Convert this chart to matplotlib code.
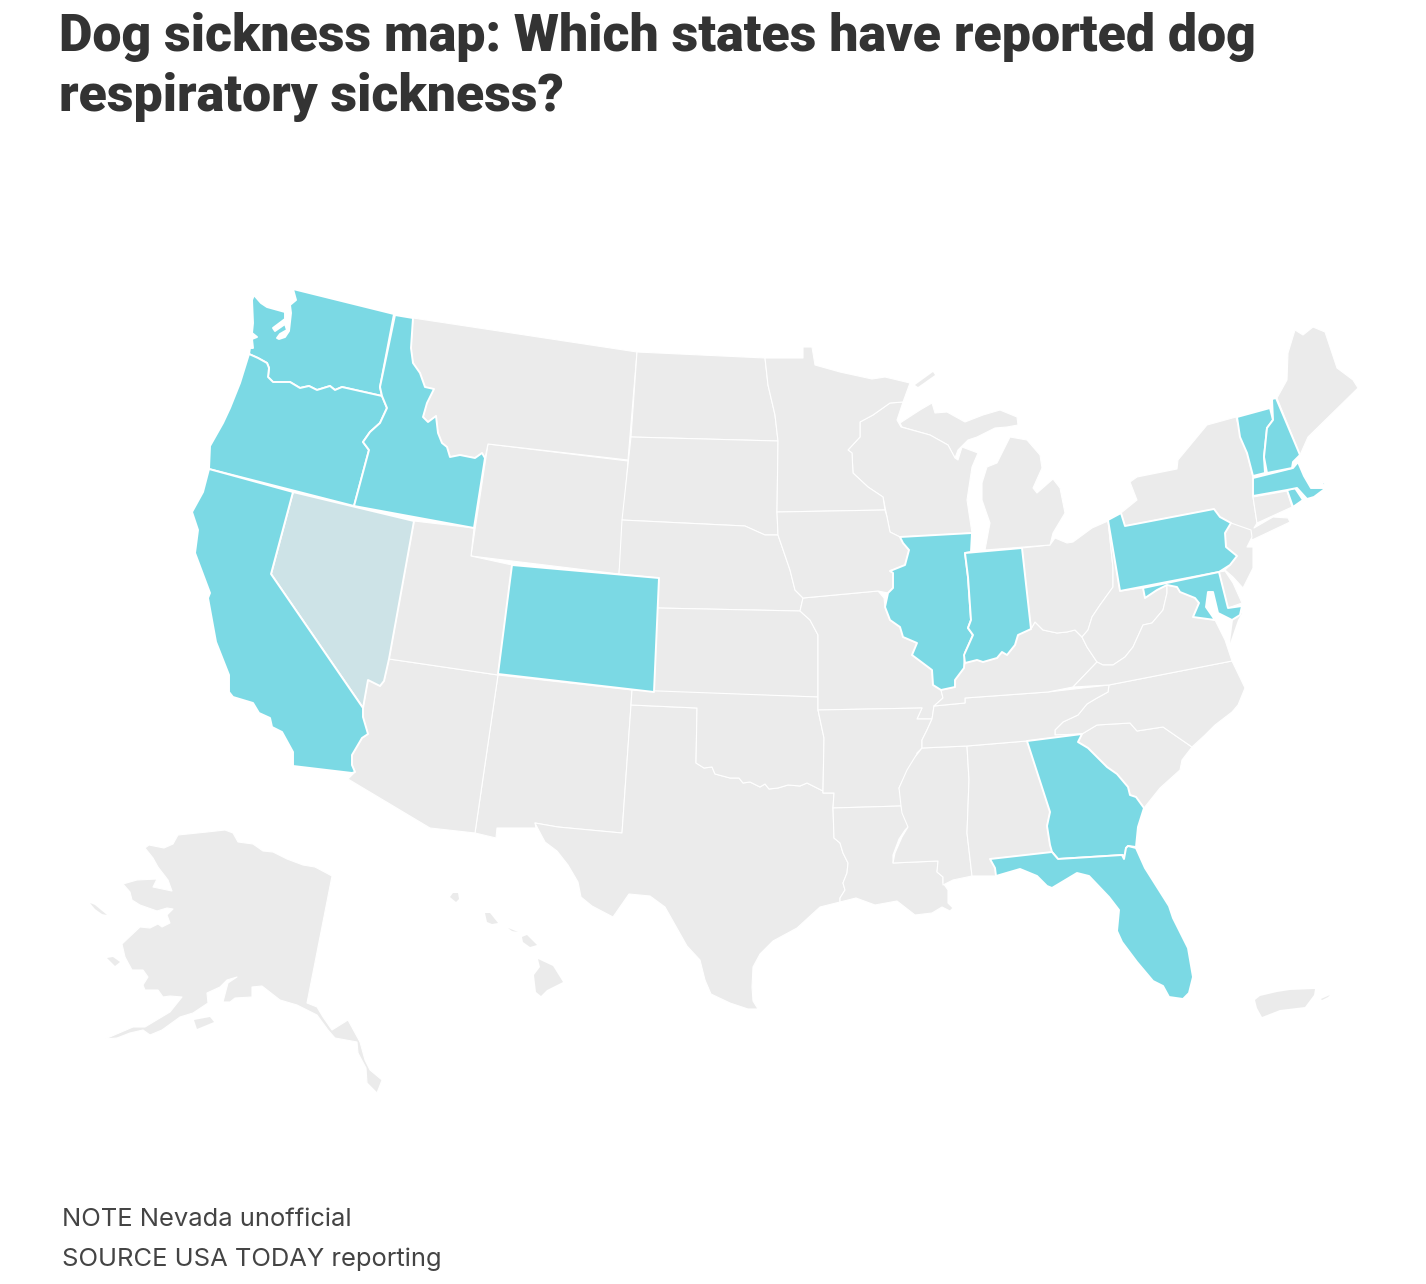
import matplotlib
matplotlib.use("Agg")
import matplotlib.pyplot as plt

TITLE = ["Dog sickness map: Which states have reported dog", "respiratory sickness?"]
NOTES = ["NOTE Nevada unofficial", "SOURCE USA TODAY reporting"]

WA = [(293,289),(394,314),(380,387),(382,396),(342,387),(335,390),(330,386),(317,390),(309,386),(300,388),(290,382),(273,382),(268,377),(269,368),(267,363),(258,358),(249,354),(250,348),(253,348),(252,339),(257,337),(252,333),(253,323),(252,300),(254,295),(261,303),(267,307),(285,312),(285,319),(273,328),(275,331),(285,324),(287,330),(280,334),(277,338),(279,339),(285,337),(289,331),(291,313),(290,305),(296,300)]
OR = [(249,354),(258,358),(267,363),(269,368),(268,377),(273,382),(290,382),(300,388),(309,386),(317,390),(330,386),(335,390),(342,387),(382,396),(387,408),(380,423),(370,432),(363,442),(369,450),(354,506),(209,469),(210,446),(223,423),(230,408),(240,383)]
ID = [(395,315),(413,318),(411,348),(413,363),(420,373),(425,387),(434,389),(427,403),(423,417),(428,422),(436,416),(438,433),(442,443),(447,447),(450,457),(460,455),(475,458),(482,453),(485,458),(474,528),(354,506),(369,450),(363,442),(370,432),(380,423),(387,408),(382,396),(380,387)]
MT = [(413,318),(637,352),(628,460),(488,444),(485,458),(482,453),(475,458),(460,455),(450,457),(447,447),(442,443),(438,433),(436,416),(428,422),(423,417),(427,403),(434,389),(425,387),(420,373),(413,363),(411,348)]
WY = [(488,444),(628,461),(619,574),(471,556)]
ND = [(637,352),(765,358),(768,385),(775,415),(778,441),(631,437)]
SD = [(631,437),(778,441),(777,512),(778,535),(765,535),(745,526),(622,520)]
NE = [(622,520),(745,526),(765,535),(778,535),(790,570),(795,590),(803,598),(800,611),(657,608),(659,578),(619,574)]
KS = [(657,608),(800,611),(810,620),(818,635),(818,697),(654,692)]
CO = [(512,565),(659,578),(654,692),(498,674)]
NM = [(498,675),(632,690),(631,705),(622,833),(558,827),(535,823),(536,828),(497,828),(496,838),(475,833)]
AZ = [(389,659),(498,675),(475,833),(430,828),(348,779),(355,772),(352,765),(352,755),(362,738),(368,734),(363,717),(363,708),(368,680),(380,686),(384,681)]
NV = [(293,492),(414,521),(389,659),(384,681),(380,686),(368,680),(363,708),(271,574)]
CA = [(209,469),(293,492),(271,574),(363,708),(363,717),(368,734),(362,738),(352,755),(352,765),(355,772),(352,773),(293,766),(293,752),(282,732),(272,727),(270,718),(259,713),(253,703),(233,697),(229,692),(229,675),(216,642),(208,598),(210,593),(195,553),(198,530),(192,512),(203,492)]
UT = [(414,521),(474,528),(471,556),(512,565),(498,675),(389,659)]
TX = [(631,705),(697,708),(696,763),(704,768),(712,767),(715,774),(730,778),(739,778),(743,783),(750,782),(760,787),(765,784),(769,789),(778,788),(788,785),(800,786),(807,783),(823,791),(823,793),(834,793),(833,808),(834,838),(840,843),(843,853),(848,863),(847,873),(843,883),(845,890),(840,898),(840,902),(820,907),(797,928),(773,941),(760,954),(753,967),(752,987),(753,1001),(758,1009),(748,1009),(730,1003),(711,994),(705,980),(700,960),(687,946),(665,907),(650,896),(629,894),(613,917),(592,906),(581,897),(578,882),(568,865),(557,851),(545,842),(536,825),(535,823),(558,827),(622,833)]
OK = [(632,690),(818,697),(818,710),(824,738),(823,791),(807,783),(800,786),(788,785),(778,788),(769,789),(765,784),(760,787),(750,782),(743,783),(739,778),(730,778),(715,774),(712,767),(704,768),(696,763),(697,708),(631,705)]
MO = [(803,598),(878,591),(884,598),(885,607),(890,620),(900,627),(903,637),(917,643),(912,655),(932,670),(933,685),(941,690),(943,698),(934,706),(932,719),(917,719),(922,708),(818,710),(818,635),(810,620),(800,611)]
AR = [(818,710),(922,708),(917,719),(932,719),(927,730),(922,740),(922,748),(917,753),(913,765),(908,770),(899,788),(903,802),(901,806),(833,808),(834,793),(823,793),(823,791),(824,738)]
LA = [(833,808),(901,806),(903,812),(906,818),(908,827),(905,830),(899,839),(893,855),(893,863),(938,861),(937,872),(943,877),(943,883),(948,890),(948,903),(953,908),(950,911),(942,907),(932,913),(915,915),(897,901),(875,905),(856,898),(840,902),(840,898),(845,890),(843,883),(847,873),(848,863),(843,853),(840,843),(834,838)]
MS = [(922,748),(967,746),(969,780),(967,833),(972,876),(953,880),(943,885),(943,877),(937,872),(938,861),(893,863),(895,853),(902,837),(908,827),(902,813),(901,806),(899,788),(907,770),(915,757)]
AL = [(967,746),(1027,741),(1050,812),(1047,826),(1050,845),(1052,852),(990,859),(995,868),(996,876),(972,876),(967,833),(969,780)]
GA = [(1027,741),(1082,734),(1078,742),(1088,748),(1107,767),(1117,774),(1128,787),(1130,795),(1136,797),(1144,808),(1138,827),(1136,847),(1128,846),(1126,848),(1125,858),(1123,855),(1058,859),(1052,852),(1050,845),(1047,826),(1050,812)]
FL = [(990,859),(1052,852),(1058,859),(1122,855),(1124,859),(1126,848),(1128,846),(1136,848),(1145,868),(1169,906),(1173,918),(1188,948),(1193,977),(1189,993),(1183,999),(1169,997),(1163,986),(1153,981),(1137,962),(1122,942),(1117,931),(1119,910),(1109,897),(1089,876),(1077,873),(1052,888),(1047,886),(1037,876),(1020,869),(996,876),(995,868)]
SC = [(1082,734),(1097,725),(1130,723),(1137,731),(1163,727),(1192,747),(1182,760),(1180,770),(1160,788),(1144,808),(1136,797),(1130,795),(1128,787),(1117,774),(1107,767),(1088,748),(1078,742)]
NC = [(1109,685),(1232,661),(1245,688),(1238,705),(1232,712),(1215,725),(1205,735),(1192,747),(1163,727),(1137,731),(1130,723),(1097,725),(1082,734),(1055,735),(1055,730),(1063,722),(1078,715),(1087,704),(1097,698),(1108,692)]
TN = [(922,748),(967,746),(1027,741),(1082,734),(1055,735),(1055,730),(1063,722),(1078,715),(1087,704),(1097,698),(1108,692),(1109,685),(1048,692),(965,698),(965,703),(934,706),(932,719),(927,730),(922,740)]
KY = [(943,698),(934,706),(965,703),(965,698),(1048,692),(1073,687),(1097,662),(1087,647),(1082,637),(1075,630),(1067,632),(1057,633),(1043,630),(1035,622),(1031,629),(1018,635),(1015,645),(1007,655),(1002,652),(997,658),(983,662),(977,660),(965,663),(964,668),(955,680),(955,687),(941,690)]
IL = [(900,537),(972,533),(971,552),(965,553),(968,577),(971,620),(968,628),(973,635),(965,653),(964,668),(955,680),(955,687),(941,690),(933,685),(932,670),(912,655),(917,643),(903,637),(900,627),(890,620),(885,607),(888,593),(893,588),(893,573),(890,571),(905,565),(909,550),(903,543)]
IN = [(965,553),(1022,548),(1031,629),(1018,635),(1015,645),(1007,655),(1002,652),(997,658),(983,662),(977,660),(965,663),(964,655),(973,635),(968,628),(971,620),(968,577)]
OH = [(1022,548),(1050,545),(1055,538),(1067,543),(1073,542),(1092,528),(1108,521),(1113,568),(1113,587),(1100,605),(1092,617),(1088,630),(1082,637),(1075,630),(1067,632),(1057,633),(1043,630),(1035,622),(1031,629)]
MI_LOWER = [(985,550),(990,523),(982,500),(982,483),(987,467),(997,463),(1005,447),(1010,437),(1027,440),(1040,455),(1042,468),(1033,488),(1037,493),(1053,479),(1060,488),(1065,513),(1053,533),(1050,545)]
MI_UPPER = [(900,423),(920,410),(932,403),(935,413),(947,412),(965,422),(983,415),(1000,410),(1017,417),(1018,425),(1007,427),(995,428),(977,437),(968,440),(958,450),(955,458),(948,445),(930,435),(902,427)]
MI_ISLE = [(915,385),(933,372),(935,375),(918,387)]
WI = [(901,427),(930,435),(948,445),(955,458),(958,460),(962,447),(978,453),(972,467),(967,500),(972,533),(900,537),(890,532),(887,517),(883,497),(868,487),(853,473),(852,453),(848,450),(860,437),(860,422),(873,415),(890,403),(903,402),(897,420)]
MN = [(765,358),(803,358),(803,347),(812,347),(815,365),(840,372),(872,379),(885,377),(910,383),(903,402),(890,403),(873,415),(860,422),(860,437),(848,450),(852,453),(853,473),(868,487),(883,497),(885,510),(777,512),(778,441),(775,415),(768,385)]
IA = [(777,512),(885,510),(887,517),(890,532),(900,537),(903,543),(909,550),(905,565),(890,571),(893,573),(893,588),(888,593),(878,591),(803,598),(795,590),(790,570),(778,535)]
PA = [(1108,520),(1121,513),(1125,526),(1214,509),(1220,517),(1231,523),(1225,533),(1226,547),(1237,556),(1230,565),(1219,572),(1120,591)]
NY = [(1125,526),(1121,513),(1137,500),(1130,482),(1137,477),(1177,469),(1178,460),(1207,425),(1236,417),(1243,443),(1247,453),(1253,477),(1253,497),(1257,523),(1254,528),(1273,517),(1288,518),(1290,522),(1252,540),(1251,535),(1231,523),(1220,517),(1214,509)]
NJ = [(1231,523),(1251,530),(1252,537),(1247,547),(1253,547),(1253,568),(1243,588),(1233,577),(1225,570),(1230,565),(1237,556),(1226,547),(1225,533)]
CT = [(1253,497),(1287,491),(1292,507),(1257,523)]
RI = [(1287,490),(1295,488),(1303,500),(1293,507)]
MA = [(1253,478),(1293,468),(1298,462),(1304,476),(1311,488),(1326,488),(1314,497),(1307,499),(1297,488),(1287,490),(1253,496)]
MA_CAPE = [(1320,481),(1325,483),(1325,487)]
VT = [(1237,417),(1270,408),(1273,420),(1267,428),(1264,457),(1265,473),(1253,476),(1247,453),(1240,437)]
NH = [(1272,399),(1276,398),(1300,455),(1293,462),(1292,468),(1267,473),(1264,457),(1267,428),(1273,420)]
ME = [(1277,398),(1287,380),(1288,353),(1295,330),(1303,335),(1313,327),(1325,332),(1337,368),(1353,380),(1358,388),(1308,437),(1300,455)]
DE = [(1219,572),(1225,571),(1233,583),(1242,603),(1228,608)]
MD = [(1143,588),(1219,572),(1228,608),(1242,606),(1240,615),(1232,620),(1218,613),(1213,592),(1208,592),(1206,607),(1215,620),(1193,617),(1199,603),(1195,598),(1180,592),(1177,587),(1167,585),(1157,590),(1145,598)]
WV = [(1108,520),(1120,591),(1143,588),(1145,598),(1157,590),(1167,585),(1167,593),(1163,610),(1152,623),(1143,625),(1133,647),(1125,657),(1113,665),(1103,665),(1097,662),(1087,647),(1082,637),(1088,630),(1092,617),(1100,605),(1113,587),(1113,568)]
VA = [(1073,687),(1097,662),(1103,665),(1113,665),(1125,657),(1133,647),(1143,625),(1152,623),(1163,610),(1167,593),(1167,585),(1177,587),(1180,592),(1195,598),(1199,603),(1193,617),(1215,620),(1225,640),(1232,661),(1109,685)]
VA_SHORE = [(1242,613),(1238,620),(1230,643),(1233,620)]
AK = [(145,848),(149,845),(164,848),(173,844),(178,835),(207,832),(225,830),(233,833),(238,842),(253,844),(263,851),(273,852),(287,859),(303,865),(315,867),(332,876),(307,1003),(317,1007),(323,1017),(332,1030),(348,1020),(360,1042),(365,1060),(370,1070),(382,1080),(377,1093),(367,1083),(366,1068),(358,1053),(357,1042),(335,1038),(328,1030),(317,1015),(297,1005),(280,1000),(262,986),(252,987),(252,997),(235,998),(230,1002),(223,1002),(228,983),(237,977),(227,980),(220,987),(207,993),(208,1003),(193,1013),(180,1017),(162,1030),(150,1035),(143,1030),(130,1033),(117,1038),(105,1039),(133,1027),(145,1027),(170,1012),(182,997),(170,996),(163,997),(158,990),(145,990),(143,985),(148,977),(143,970),(132,970),(125,957),(122,944),(140,927),(150,928),(158,924),(162,927),(170,923),(167,915),(173,909),(167,908),(157,911),(140,905),(132,900),(130,892),(123,884),(137,880),(157,879),(153,887),(172,891),(168,880),(158,867),(153,858)]
AK_KODIAK = [(194,1020),(210,1017),(214,1022),(197,1029)]
AK_LAWRENCE = [(90,903),(95,905),(107,915),(102,914),(95,909)]
AK_NUNIVAK = [(107,958),(113,957),(120,962),(115,966)]
HI_KAUAI = [(453,893),(458,893),(459,899),(456,902),(450,897)]
HI_OAHU = [(485,913),(490,913),(498,923),(492,924),(487,922)]
HI_MOLOKAI = [(508,928),(518,932),(512,931)]
HI_MAUI = [(522,937),(527,935),(537,945),(530,947),(523,942)]
HI_BIG = [(538,959),(553,966),(563,982),(547,990),(541,996),(536,992),(534,975),(540,967)]
PR_MAIN = [(1255,1000),(1260,996),(1277,992),(1290,990),(1315,989),(1314,995),(1305,1007),(1280,1010),(1262,1017),(1257,1008)]
PR_VIEQUES = [(1321,999),(1330,995),(1328,997),(1322,1000)]

NO_REPORT = [WY, MT, ND, SD, NE, KS, NM, AZ, UT, TX, OK, MO, AR, LA, MS, AL, SC, NC, TN, KY, OH,
             MI_LOWER, MI_UPPER, WI, MN, IA, NY, NJ, CT, ME, DE, WV, VA, AK]
SMALL_ISLANDS = [MI_ISLE, VA_SHORE, AK_KODIAK, AK_LAWRENCE, AK_NUNIVAK, HI_KAUAI, HI_OAHU,
                 HI_MOLOKAI, HI_MAUI, HI_BIG, PR_MAIN, PR_VIEQUES]
UNOFFICIAL = [NV]
REPORTED = [WA, OR, ID, CO, CA, GA, FL, IL, IN, PA, RI, MA, MA_CAPE, VT, NH, MD]

GREY, PALE, TEAL = "#EBEBEB", "#CDE3E7", "#7BD9E4"
fig = plt.figure(figsize=(14.26, 12.84), dpi=100, facecolor="white")
ax = fig.add_axes([0, 0, 1, 1])
ax.set_xlim(0, 1426)
ax.set_ylim(1284, 0)
ax.axis("off")

def draw(group, color, lw, z):
    for poly in group:
        xs, ys = zip(*poly)
        ax.fill(xs, ys, facecolor=color, edgecolor="white" if lw else "none", linewidth=lw, zorder=z, joinstyle="round")

draw(NO_REPORT, GREY, 0.8, 1)
draw(SMALL_ISLANDS, GREY, 0, 1)
draw(UNOFFICIAL, PALE, 1.4, 2)
draw(REPORTED, TEAL, 1.4, 3)

for i, line in enumerate(TITLE):
    ax.text(59, 37 + i * 60, line, fontsize=37.4, family="Roboto", fontweight=900, color="#333333", va="center", ha="left")
for i, line in enumerate(NOTES):
    ax.text(62, 1220 + i * 39, line, fontsize=18.4, family="Inter", color="#444444", va="center", ha="left")

fig.savefig("out.png", dpi=100, facecolor="white")
